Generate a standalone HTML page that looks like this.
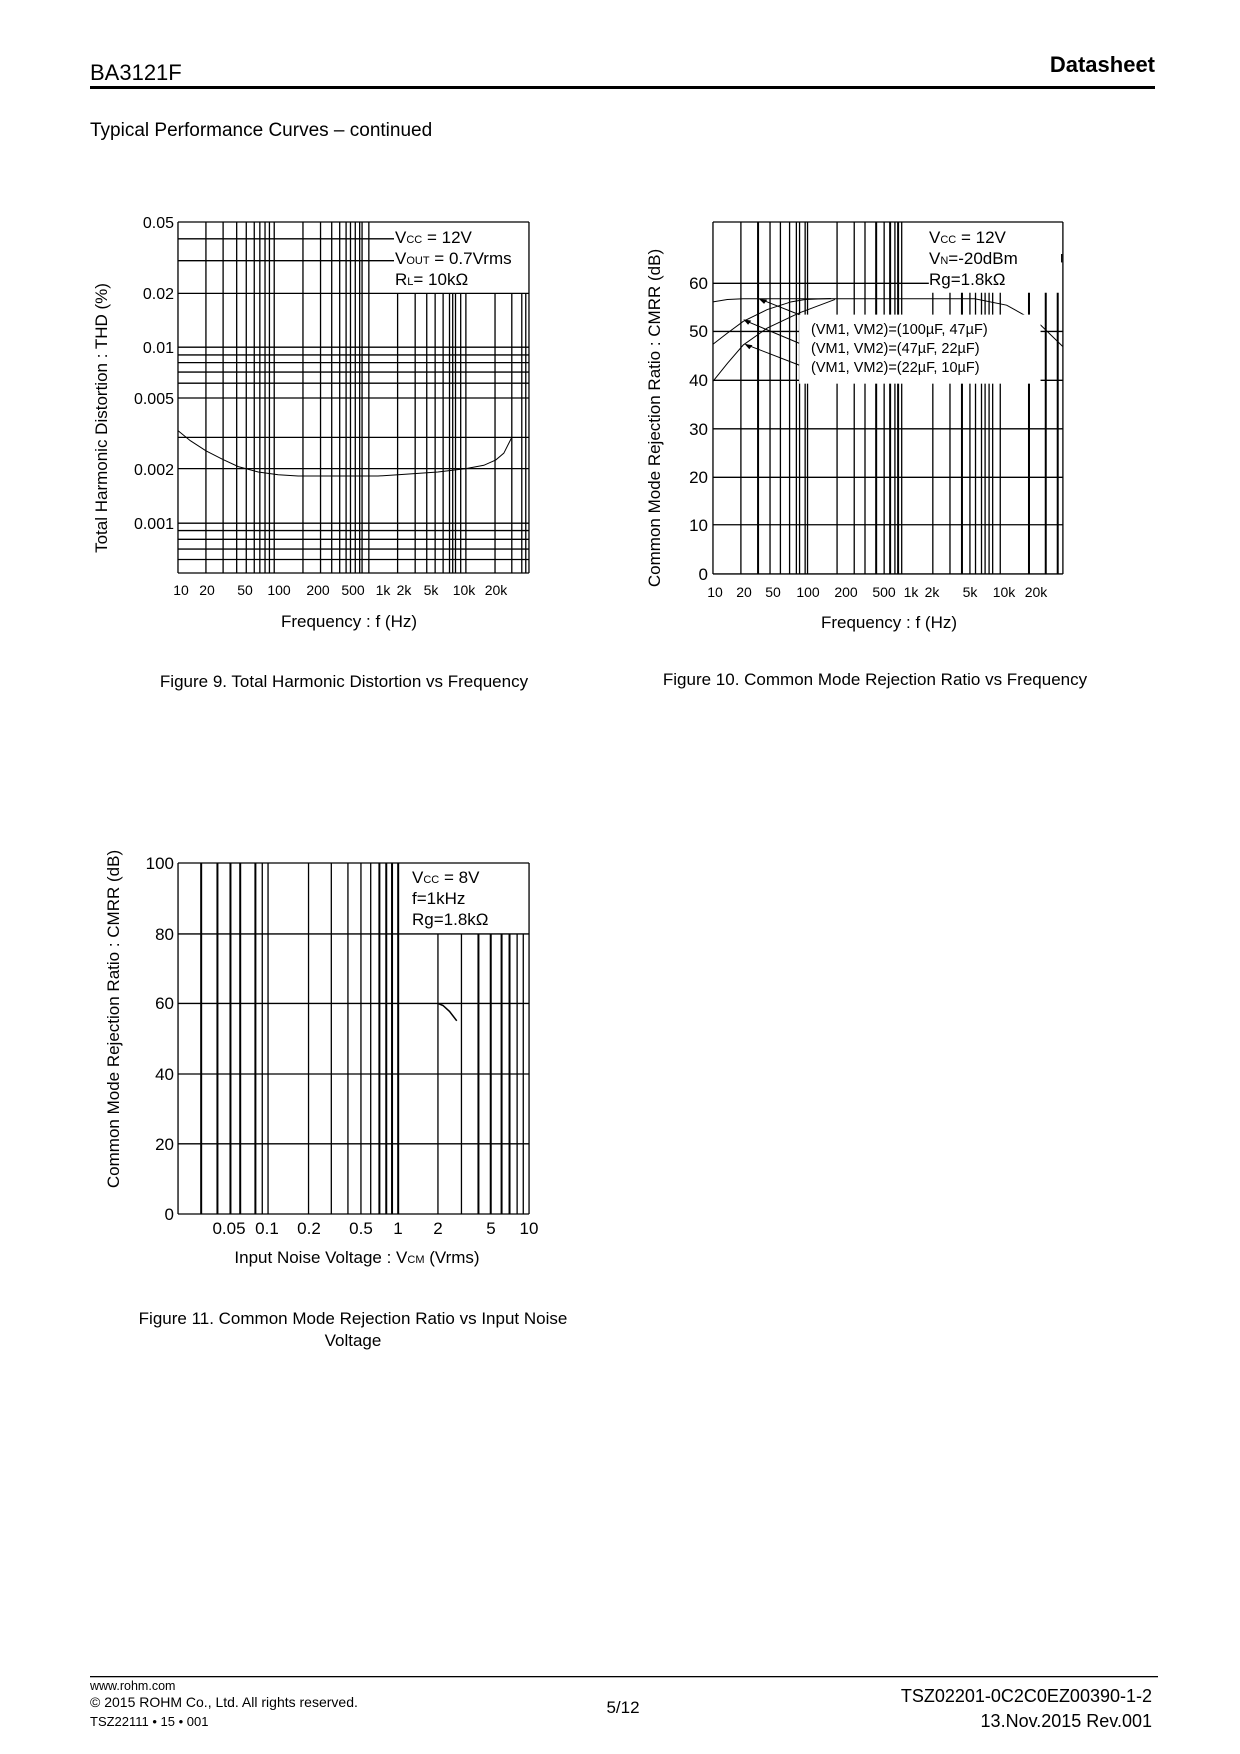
<!DOCTYPE html>
<html><head><meta charset="utf-8"><style>
html,body{margin:0;padding:0;background:#fff}
svg{display:block}
text{font-family:"Liberation Sans",Arial,sans-serif;fill:#000}
.g line{stroke:#000;stroke-width:1.3;vector-effect:non-scaling-stroke}
.c{fill:none;stroke:#000;stroke-width:1;vector-effect:non-scaling-stroke}
</style></head><body>
<svg width="1240" height="1754" viewBox="0 0 1240 1754" xmlns="http://www.w3.org/2000/svg">
<!-- header -->
<text x="90" y="80" font-size="22">BA3121F</text>
<text x="1155" y="72" font-size="22" font-weight="bold" text-anchor="end">Datasheet</text>
<rect x="90" y="86" width="1065" height="3" fill="#000"/>
<text x="90" y="136" font-size="19">Typical Performance Curves – continued</text>

<!-- Chart 1 -->
<g class="g" transform="matrix(0.3993 0 0 0.3365 -1.3 179.94)">
<line x1="449" y1="125" x2="1328" y2="125"/>
<line x1="449" y1="175" x2="990" y2="175"/>
<line x1="449" y1="240" x2="990" y2="240"/>
<line x1="449" y1="337" x2="1328" y2="337"/>
<line x1="449" y1="497" x2="1328" y2="497"/><line x1="449" y1="520" x2="1328" y2="520"/>
<line x1="449" y1="543" x2="1328" y2="543"/><line x1="449" y1="571" x2="1328" y2="571"/>
<line x1="449" y1="604" x2="1328" y2="604"/><line x1="449" y1="648" x2="1328" y2="648"/>
<line x1="449" y1="765" x2="1328" y2="765"/><line x1="449" y1="858" x2="1328" y2="858"/>
<line x1="449" y1="1020" x2="1328" y2="1020"/><line x1="449" y1="1042" x2="1328" y2="1042"/>
<line x1="449" y1="1068" x2="1328" y2="1068"/><line x1="449" y1="1097" x2="1328" y2="1097"/>
<line x1="449" y1="1128" x2="1328" y2="1128"/><line x1="449" y1="1168" x2="1328" y2="1168"/>
<line x1="449" y1="125" x2="449" y2="1168"/><line x1="519" y1="125" x2="519" y2="1168"/>
<line x1="562" y1="125" x2="562" y2="1168"/><line x1="596" y1="125" x2="596" y2="1168"/>
<line x1="620" y1="125" x2="620" y2="1168"/><line x1="640" y1="125" x2="640" y2="1168"/>
<line x1="654" y1="125" x2="654" y2="1168"/><line x1="667" y1="125" x2="667" y2="1168"/>
<line x1="678" y1="125" x2="678" y2="1168"/><line x1="690" y1="125" x2="690" y2="1168"/>
<line x1="762" y1="125" x2="762" y2="1168"/><line x1="806" y1="125" x2="806" y2="1168"/>
<line x1="834" y1="125" x2="834" y2="1168"/><line x1="854" y1="125" x2="854" y2="1168"/>
<line x1="870" y1="125" x2="870" y2="1168"/><line x1="881" y1="125" x2="881" y2="1168"/>
<line x1="893" y1="125" x2="893" y2="1168"/><line x1="904" y1="125" x2="904" y2="1168"/>
<line x1="910" y1="125" x2="910" y2="1168"/><line x1="927" y1="125" x2="927" y2="1168"/>
<line x1="999" y1="337" x2="999" y2="1168"/><line x1="1043" y1="337" x2="1043" y2="1168"/>
<line x1="1072" y1="337" x2="1072" y2="1168"/><line x1="1093" y1="337" x2="1093" y2="1168"/>
<line x1="1113" y1="337" x2="1113" y2="1168"/><line x1="1129" y1="337" x2="1129" y2="1168"/>
<line x1="1137" y1="337" x2="1137" y2="1168"/><line x1="1144" y1="337" x2="1144" y2="1168"/>
<line x1="1157" y1="337" x2="1157" y2="1168"/><line x1="1170" y1="337" x2="1170" y2="1168"/>
<line x1="1243" y1="337" x2="1243" y2="1168"/><line x1="1285" y1="337" x2="1285" y2="1168"/>
<line x1="1310" y1="337" x2="1310" y2="1168"/><line x1="1320" y1="337" x2="1320" y2="1168"/>
<line x1="1328" y1="125" x2="1328" y2="1168"/>
<path class="c" d="M449,745 L480,775 L519,805 L560,830 L600,852 L650,868 L700,876 L750,880 L950,880 L1000,876 L1100,868 L1170,858 L1215,848 L1245,832 L1265,812 L1285,765"/>
</g>
<text x="395" y="243" font-size="17">V<tspan font-size="11">CC</tspan> = 12V</text>
<text x="395" y="264" font-size="17">V<tspan font-size="11">OUT</tspan> = 0.7Vrms</text>
<text x="395" y="285" font-size="17">R<tspan font-size="11">L</tspan>= 10kΩ</text>
<g font-size="16" text-anchor="end">
<text x="174" y="228">0.05</text><text x="174" y="299">0.02</text><text x="174" y="353">0.01</text>
<text x="174" y="404">0.005</text><text x="174" y="475">0.002</text><text x="174" y="529">0.001</text>
</g>
<g font-size="14" text-anchor="middle" fill="#333">
<text x="181" y="595">10</text><text x="207" y="595">20</text><text x="245" y="595">50</text>
<text x="279" y="595">100</text><text x="318" y="595">200</text><text x="353" y="595">500</text>
<text x="383" y="595">1k</text><text x="404" y="595">2k</text><text x="431" y="595">5k</text>
<text x="464" y="595">10k</text><text x="496" y="595">20k</text>
</g>
<text x="349" y="627" font-size="17" text-anchor="middle">Frequency : f (Hz)</text>
<text transform="translate(107,418) rotate(-90)" font-size="17" text-anchor="middle">Total Harmonic Distortion : THD (%)</text>
<text x="344" y="687" font-size="17" text-anchor="middle">Figure 9. Total Harmonic Distortion vs Frequency</text>

<!-- Chart 2 -->
<g class="g" transform="matrix(0.399 0 0 0.3368 623.6 179.9)">
<line x1="224" y1="125" x2="1101" y2="125"/>
<line x1="224" y1="307" x2="765" y2="307"/>
<line x1="224" y1="450" x2="1101" y2="450"/><line x1="224" y1="595" x2="1101" y2="595"/>
<line x1="224" y1="739" x2="1101" y2="739"/><line x1="224" y1="883" x2="1101" y2="883"/>
<line x1="224" y1="1024" x2="1101" y2="1024"/><line x1="224" y1="1170" x2="1101" y2="1170"/>
<line x1="224" y1="125" x2="224" y2="1170"/><line x1="294" y1="125" x2="294" y2="1170"/>
<line x1="337" y1="125" x2="337" y2="1170" style="stroke-width:2"/><line x1="367" y1="125" x2="367" y2="1170"/>
<line x1="393" y1="125" x2="393" y2="1170"/><line x1="416" y1="125" x2="416" y2="1170"/>
<line x1="433" y1="125" x2="433" y2="1170"/><line x1="441" y1="125" x2="441" y2="1170"/>
<line x1="455" y1="125" x2="455" y2="1170"/><line x1="461" y1="125" x2="461" y2="1170"/>
<line x1="535" y1="125" x2="535" y2="1170"/><line x1="578" y1="125" x2="578" y2="1170"/>
<line x1="605" y1="125" x2="605" y2="1170"/><line x1="633" y1="125" x2="633" y2="1170" style="stroke-width:2"/>
<line x1="653" y1="125" x2="653" y2="1170"/><line x1="668" y1="125" x2="668" y2="1170" style="stroke-width:2"/>
<line x1="680" y1="125" x2="680" y2="1170"/><line x1="688" y1="125" x2="688" y2="1170" style="stroke-width:2"/>
<line x1="697" y1="125" x2="697" y2="1170"/>
<line x1="775" y1="335" x2="775" y2="1170"/><line x1="818" y1="335" x2="818" y2="1170"/>
<line x1="848" y1="335" x2="848" y2="1170" style="stroke-width:2"/><line x1="868" y1="335" x2="868" y2="1170"/>
<line x1="882" y1="335" x2="882" y2="1170"/><line x1="897" y1="335" x2="897" y2="1170"/>
<line x1="906" y1="335" x2="906" y2="1170"/><line x1="916" y1="335" x2="916" y2="1170"/>
<line x1="925" y1="335" x2="925" y2="1170"/><line x1="944" y1="335" x2="944" y2="1170"/>
<line x1="1016" y1="335" x2="1016" y2="1170" style="stroke-width:2"/><line x1="1058" y1="335" x2="1058" y2="1170" style="stroke-width:2"/>
<line x1="1088" y1="335" x2="1088" y2="1170" style="stroke-width:2"/><line x1="1101" y1="125" x2="1101" y2="1170"/>
<line x1="1098" y1="220" x2="1098" y2="245"/>
<path class="c" d="M224,362 L260,355 L300,353 L455,353 L880,353 L960,372 L1040,425 L1101,495"/>
<path class="c" d="M224,488 L260,455 L300,420 L360,385 L420,362 L455,355 L520,352"/>
<path class="c" d="M224,598 L260,545 L300,490 L360,440 L440,395 L530,355"/>
<rect x="440" y="400" width="605" height="205" fill="#fff"/>
<path class="c" d="M440,400 L342,354 M440,485 L303,417 M440,550 L307,489"/>
<path d="M338,352 L360,356 L352,368Z M300,414 L320,418 L312,430Z M303,487 L323,491 L315,503Z" fill="#000"/>
</g>
<text x="929" y="243" font-size="17">V<tspan font-size="11">CC</tspan> = 12V</text>
<text x="929" y="264" font-size="17">V<tspan font-size="11">N</tspan>=-20dBm</text>
<text x="929" y="285" font-size="17">Rg=1.8kΩ</text>
<g font-size="14.5" fill="#444">
<text x="811" y="334">(VM1, VM2)=(100µF, 47µF)</text>
<text x="811" y="353">(VM1, VM2)=(47µF, 22µF)</text>
<text x="811" y="372">(VM1, VM2)=(22µF, 10µF)</text>
</g>
<g font-size="17" text-anchor="end" fill="#222">
<text x="708" y="289">60</text><text x="708" y="337">50</text><text x="708" y="386">40</text>
<text x="708" y="435">30</text><text x="708" y="483">20</text><text x="708" y="531">10</text><text x="708" y="580">0</text>
</g>
<g font-size="14" text-anchor="middle" fill="#333">
<text x="715" y="597">10</text><text x="744" y="597">20</text><text x="773" y="597">50</text>
<text x="808" y="597">100</text><text x="846" y="597">200</text><text x="884" y="597">500</text>
<text x="911" y="597">1k</text><text x="932" y="597">2k</text><text x="970" y="597">5k</text>
<text x="1004" y="597">10k</text><text x="1036" y="597">20k</text>
</g>
<text x="889" y="628" font-size="17" text-anchor="middle">Frequency : f (Hz)</text>
<text transform="translate(660,418) rotate(-90)" font-size="17" text-anchor="middle">Common Mode Rejection Ratio : CMRR (dB)</text>
<text x="875" y="685" font-size="17" text-anchor="middle">Figure 10. Common Mode Rejection Ratio vs Frequency</text>

<!-- Chart 3 -->
<g class="g" transform="matrix(0.3615 0 0 0.3475 59.1 825.5)">
<line x1="329" y1="108" x2="1300" y2="108"/><line x1="329" y1="312" x2="1300" y2="312"/>
<line x1="329" y1="512" x2="1300" y2="512"/><line x1="329" y1="715" x2="1300" y2="715"/>
<line x1="329" y1="916" x2="1300" y2="916"/><line x1="329" y1="1118" x2="1300" y2="1118"/>
<line x1="329" y1="108" x2="329" y2="1118"/><line x1="393" y1="108" x2="393" y2="1118" style="stroke-width:2"/>
<line x1="438" y1="108" x2="438" y2="1118" style="stroke-width:2"/><line x1="474" y1="108" x2="474" y2="1118" style="stroke-width:2"/>
<line x1="501" y1="108" x2="501" y2="1118" style="stroke-width:2"/><line x1="543" y1="108" x2="543" y2="1118" style="stroke-width:2"/>
<line x1="562" y1="108" x2="562" y2="1118"/><line x1="578" y1="108" x2="578" y2="1118"/>
<line x1="690" y1="108" x2="690" y2="1118"/><line x1="753" y1="108" x2="753" y2="1118"/>
<line x1="799" y1="108" x2="799" y2="1118"/><line x1="835" y1="108" x2="835" y2="1118"/>
<line x1="862" y1="108" x2="862" y2="1118"/><line x1="886" y1="108" x2="886" y2="1118" style="stroke-width:2"/>
<line x1="905" y1="108" x2="905" y2="1118" style="stroke-width:2"/><line x1="921" y1="108" x2="921" y2="1118" style="stroke-width:2"/>
<line x1="938" y1="108" x2="938" y2="1118" style="stroke-width:2"/>
<line x1="1048" y1="312" x2="1048" y2="1118"/><line x1="1113" y1="312" x2="1113" y2="1118"/>
<line x1="1160" y1="312" x2="1160" y2="1118" style="stroke-width:2"/><line x1="1194" y1="312" x2="1194" y2="1118" style="stroke-width:2"/>
<line x1="1224" y1="312" x2="1224" y2="1118" style="stroke-width:2"/><line x1="1246" y1="312" x2="1246" y2="1118" style="stroke-width:2"/>
<line x1="1267" y1="312" x2="1267" y2="1118"/><line x1="1284" y1="312" x2="1284" y2="1118"/>
<line x1="1300" y1="108" x2="1300" y2="1118"/>
<path class="c" d="M1048,512 L1062,518 L1080,535 L1100,562" style="stroke-width:1.5"/>
</g>
<text x="412" y="883" font-size="17">V<tspan font-size="11">CC</tspan> = 8V</text>
<text x="412" y="904" font-size="17">f=1kHz</text>
<text x="412" y="925" font-size="17">Rg=1.8kΩ</text>
<g font-size="17" text-anchor="end" fill="#222">
<text x="174" y="869">100</text><text x="174" y="940">80</text><text x="174" y="1009">60</text>
<text x="174" y="1080">40</text><text x="174" y="1150">20</text><text x="174" y="1220">0</text>
</g>
<g font-size="17" text-anchor="middle" fill="#222">
<text x="229" y="1234">0.05</text><text x="267" y="1234">0.1</text><text x="309" y="1234">0.2</text>
<text x="361" y="1234">0.5</text><text x="398" y="1234">1</text><text x="438" y="1234">2</text>
<text x="491" y="1234">5</text><text x="529" y="1234">10</text>
</g>
<text x="357" y="1263" font-size="17" text-anchor="middle">Input Noise Voltage : V<tspan font-size="11">CM</tspan> (Vrms)</text>
<text transform="translate(119,1019) rotate(-90)" font-size="17" text-anchor="middle">Common Mode Rejection Ratio : CMRR (dB)</text>
<text x="353" y="1324" font-size="17" text-anchor="middle">Figure 11. Common Mode Rejection Ratio vs Input Noise</text>
<text x="353" y="1346" font-size="17" text-anchor="middle">Voltage</text>

<!-- footer -->
<rect x="90" y="1676" width="1068" height="1.3" fill="#000"/>
<text x="90" y="1690" font-size="12.5" fill="#333">www.rohm.com</text>
<text x="90" y="1707" font-size="14" fill="#333">© 2015 ROHM Co., Ltd. All rights reserved.</text>
<text x="90" y="1726" font-size="13" fill="#333">TSZ22111 • 15 • 001</text>
<text x="623" y="1713" font-size="17" text-anchor="middle">5/12</text>
<text x="1152" y="1702" font-size="18" text-anchor="end">TSZ02201-0C2C0EZ00390-1-2</text>
<text x="1152" y="1727" font-size="18" text-anchor="end">13.Nov.2015 Rev.001</text>
</svg>
</body></html>
